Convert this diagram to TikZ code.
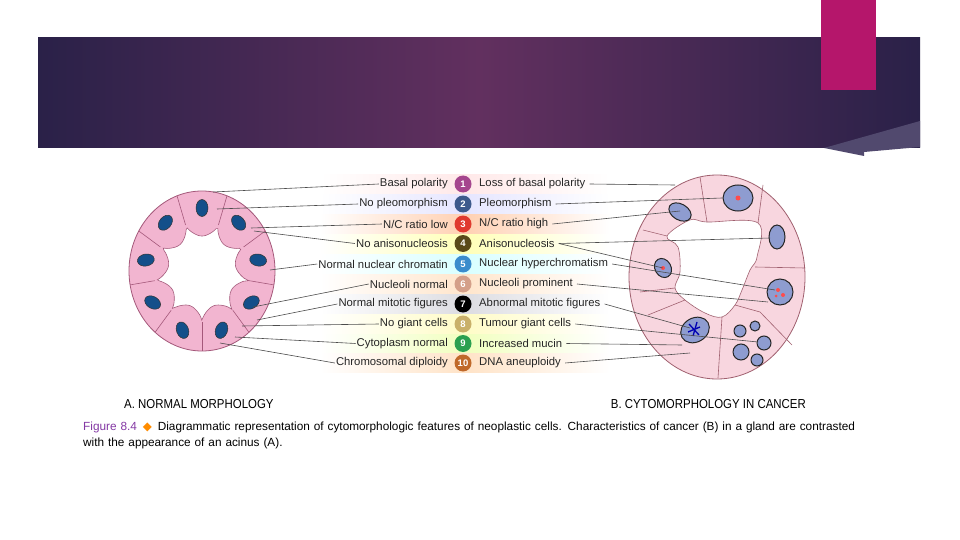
\documentclass[tikz,border=0pt]{standalone}
\usepackage{fontspec}
\setmainfont{Liberation Sans}
\usetikzlibrary{calc}
\definecolor{navy}{HTML}{2A2148}
\definecolor{plum}{HTML}{62305F}
\definecolor{mag}{HTML}{B5166B}
\definecolor{tri}{HTML}{51496E}
\definecolor{pinkc}{HTML}{F2B5D0}
\definecolor{pinkd}{HTML}{A4587A}
\definecolor{nucb}{HTML}{144F8A}
\definecolor{cpink}{HTML}{F8D6DF}
\definecolor{cline}{HTML}{A0606F}
\definecolor{nucv}{HTML}{8E9CD0}
\tikzset{
 lbl/.style={font=\fontsize{11.3}{12}\selectfont,text=black!85,inner sep=0pt},
 badge/.style={circle,minimum size=17pt,inner sep=0pt,text=white,font=\fontsize{9.5}{10}\selectfont\bfseries},
 conn/.style={draw=black!70,line width=0.6pt},
 nucl/.style={fill=nucb,draw=black!80,line width=0.5pt},
 vnuc/.style={fill=nucv,draw=black!85,line width=1pt},
}
\begin{document}
\begin{tikzpicture}[x=1pt,y=-1pt]
\useasboundingbox (0,0) rectangle (960,540);
\fill[white] (0,0) rectangle (960,540);
% banner
\shade[left color=navy,right color=navy,middle color=plum] (38,38) rectangle (920,148);
\fill[mag] (821,0) rectangle (876,90);
\fill[tri] (824,148) -- (920,121) -- (920,147) -- (864,152) -- (864,156) -- cycle;
% ---- left gland
\coordinate (L) at (202,271);
\fill[pinkc] (L) ellipse [x radius=73,y radius=80];
\filldraw[fill=white,draw=pinkd,line width=0.6pt] plot[domain=0:359,samples=180,variable=\t]
 ({202+(48-14*sqrt(abs(cos(4.5*(\t-270)))))*cos(\t)},{272+(50-14*sqrt(abs(cos(4.5*(\t-270)))))*sin(\t)}) -- cycle;
\draw[pinkd,line width=0.8pt] (L) ellipse [x radius=73,y radius=80];
\foreach \a in {290,330,10,50,90,130,170,210,250}{
 \draw[pinkd,line width=0.6pt] ({202+48*cos(\a)},{272+50*sin(\a)}) -- ({202+73*cos(\a)},{271+80*sin(\a)});
}
\foreach \a in {270,310,350,30,70,110,150,190,230}{
 \fill[nucl,rotate around={\a:({202+57*cos(\a)},{271+63*sin(\a)})}] ({202+57*cos(\a)},{271+63*sin(\a)}) ellipse [x radius=8.5,y radius=6];
}
% ---- right gland
\coordinate (R) at (717,277);
\fill[cpink] (R) ellipse [x radius=88,y radius=102];
\fill[white,draw=cline,line width=0.6pt] plot[smooth cycle,tension=0.6] coordinates {
 (707,222) (758,223) (757,257) (750,270) (742,290) (735,305) (722,317) (705,313) (685,300) (675,288) (680,272) (678,247) (667,236) (690,220)};
\draw[cline,line width=0.8pt] (R) ellipse [x radius=88,y radius=102];
\draw[cline,line width=0.6pt] (700,177) -- (707,222) (763,185) -- (758,223) (643,230) -- (667,236)
 (755,267) -- (805,268) (648,315) -- (685,300) (640,292) -- (675,288) (718,378) -- (722,317)
 (735,305) -- (760,312) -- (792,345);
% right nuclei
\filldraw[vnuc] (738,198) ellipse [x radius=15,y radius=13];
\fill[red!60!pink] (738,198) circle (2.5);
\filldraw[vnuc,rotate around={-30:(680,212)}] (680,212) ellipse [x radius=12,y radius=8];
\filldraw[vnuc] (777,237) ellipse [x radius=8,y radius=12];
\filldraw[vnuc,rotate around={-60:(663,268)}] (663,268) ellipse [x radius=10,y radius=8];
\fill[red!60!pink] (663,268) circle (2);
\filldraw[vnuc] (780,292) circle (13);
\fill[red!60!pink] (778,290) circle (2) (783,295) circle (2) (776,296) circle (1.5);
\filldraw[vnuc,rotate around={30:(695,330)}] (695,330) ellipse [x radius=15,y radius=12];
\draw[blue!70!black,line width=1.3pt] (689,324)--(699,335) (697,322)--(693,336) (688,332)--(700,327);
\foreach \p/\r in {{(740,331)}/6,{(755,326)}/5,{(764,343)}/7,{(741,352)}/8,{(757,360)}/6}{
 \filldraw[vnuc] \p circle (\r);
}
% ---- middle table
\foreach \y/\c in {184/pink!35,204/blue!10,224/red!22!orange!30,
 243.5/yellow!28,264/cyan!15,284/orange!20,304/blue!8!gray!25,
 324/orange!12!yellow!22,343.5/green!22!yellow!25,363/orange!22}{
 \shade[left color=white,right color=white,middle color=\c] (320,{\y-9.5}) rectangle (610,{\y+9.5});
}
\definecolor{b1}{HTML}{A5468E}\definecolor{b2}{HTML}{3D5A8C}\definecolor{b3}{HTML}{E03A2F}
\definecolor{b4}{HTML}{5A4A1A}\definecolor{b5}{HTML}{3B8CCC}\definecolor{b6}{HTML}{D4A08A}
\definecolor{b7}{HTML}{000000}\definecolor{b8}{HTML}{C9B06A}\definecolor{b9}{HTML}{2AA050}
\definecolor{b10}{HTML}{C0692A}
\foreach \i/\y/\l/\r in {
 1/184/{Basal polarity}/{Loss of basal polarity},
 2/204/{No pleomorphism}/{Pleomorphism},
 3/224/{N/C ratio low}/{N/C ratio high},
 4/243.5/{No anisonucleosis}/{Anisonucleosis},
 5/264/{Normal nuclear chromatin}/{Nuclear hyperchromatism},
 6/284/{Nucleoli normal}/{Nucleoli prominent},
 7/304/{Normal mitotic figures}/{Abnormal mitotic figures},
 8/324/{No giant cells}/{Tumour giant cells},
 9/343.5/{Cytoplasm normal}/{Increased mucin},
 10/363/{Chromosomal diploidy}/{DNA aneuploidy}}{
 \node[badge,fill=b\i] (b\i) at (463,\y) {\i};
 \node[lbl,anchor=east] (l\i) at (448,\y) {\l};
 \node[lbl,anchor=west] (r\i) at (479,\y) {\r};
}
% left connectors
\coordinate (la1) at (213,192); \coordinate (la2) at (217,209); \coordinate (la3) at (251,228);
\coordinate (la4) at (254,231); \coordinate (la5) at (270,270); \coordinate (la6) at (253,307);
\coordinate (la7) at (257,320); \coordinate (la8) at (242,326); \coordinate (la9) at (235,337);
\coordinate (la10) at (220,343);
\foreach \i in {1,...,10}{ \draw[conn] ([xshift=-1pt]l\i.west) -- (la\i); }
% right connectors
\coordinate (ra1) at (675,185); \coordinate (ra2) at (722,198); \coordinate (ra3) at (680,211);
\coordinate (ra4) at (770,238); \coordinate (ra4b) at (663,268); \coordinate (ra5) at (775,290);
\coordinate (ra6) at (768,302); \coordinate (ra7) at (690,328); \coordinate (ra8) at (758,342);
\coordinate (ra9) at (682,345); \coordinate (ra10) at (690,353);
\foreach \i in {1,...,10}{ \draw[conn] ([xshift=4pt]r\i.east) -- (ra\i); }
\draw[conn] ([xshift=4pt]r4.east) -- (ra4b);
% titles
\node[font=\fontsize{13}{14}\selectfont,anchor=west,inner sep=0pt] (ta) at (124,404) {\addfontfeature{FakeStretch=0.88}A. NORMAL MORPHOLOGY};
\node[font=\fontsize{13}{14}\selectfont,anchor=east,inner sep=0pt] (tb) at (806,404) {\addfontfeature{FakeStretch=0.88}B. CYTOMORPHOLOGY IN CANCER};
\node[font=\fontsize{11.8}{16}\selectfont,anchor=north west,inner sep=0pt,text width=840pt,align=left] (cap) at (83,422)
 {\textcolor{b1!80!blue}{Figure 8.4}\enspace{\color{orange!90!yellow}\fontspec{DejaVu Sans}◆}\enspace Diagrammatic representation of cytomorphologic features of neoplastic cells. Characteristics of cancer (B) in a gland are contrasted\\with the appearance of an acinus (A).};
\end{tikzpicture}
\end{document}
